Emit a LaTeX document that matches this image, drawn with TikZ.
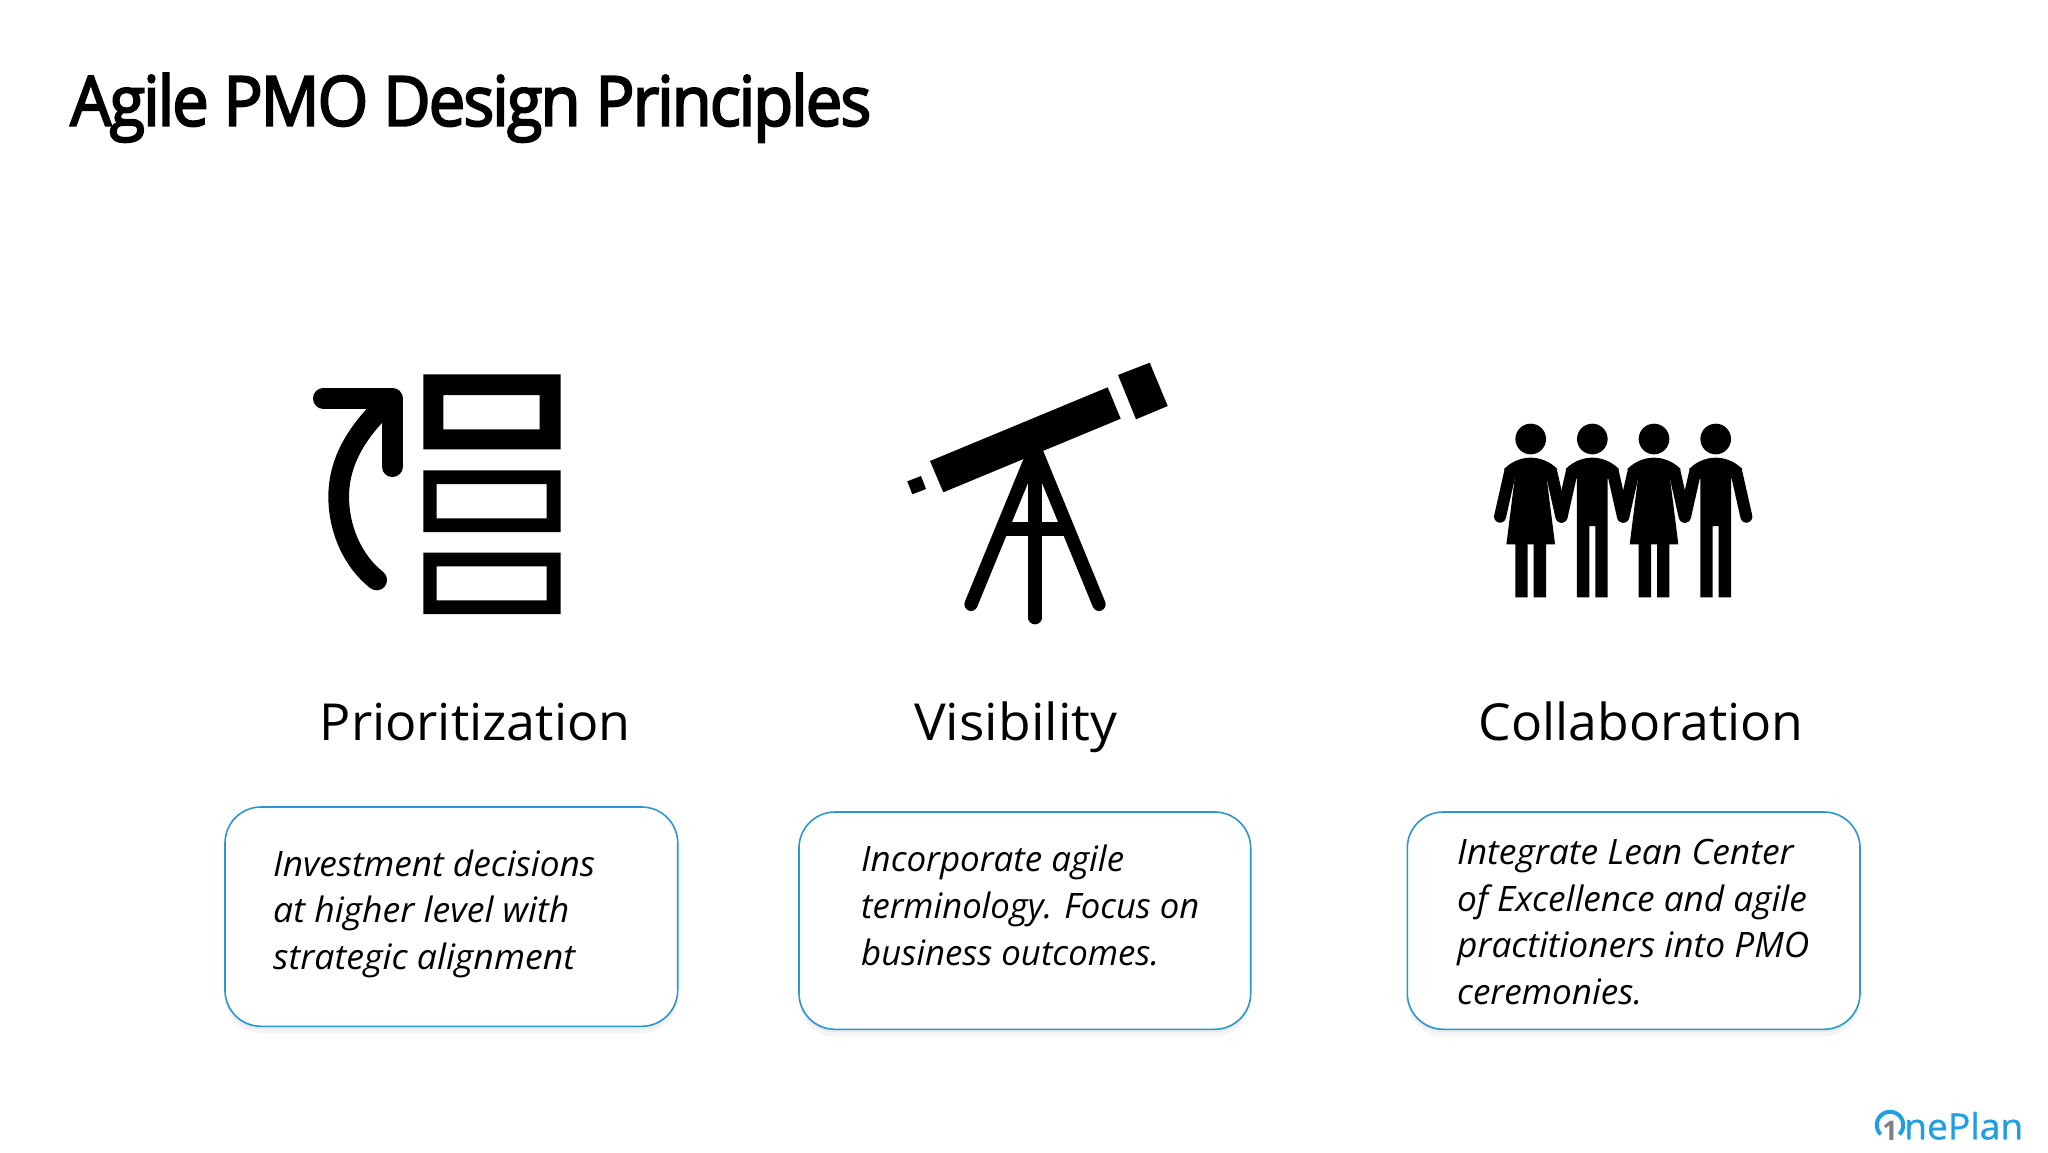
\documentclass[tikz,border=0pt]{standalone}
\usepackage{fontspec}
\usepackage{graphicx}
\usetikzlibrary{shadows}
\setmainfont{Open Sans}
\newfontfamily\titlefont[FakeBold=3,LetterSpace=-3]{Open Sans}
\newfontfamily\logofont[FakeBold=0.8]{Open Sans}
\definecolor{boxblue}{HTML}{2B96D2}
\definecolor{logoblue}{HTML}{1E9FE3}
\definecolor{logogray}{HTML}{7F7F7F}
\newcommand{\fitw}[2]{\resizebox{#1pt}{\height}{#2}}
\newcommand{\bodysize}{\fontsize{35}{46.6}\selectfont\itshape}
\tikzset{
  infobox/.style={draw=boxblue,line width=1.6pt,fill=white,rounded corners=36pt,inner sep=0pt,
    drop shadow={opacity=.08,shadow xshift=0pt,shadow yshift=-3pt},
    drop shadow={opacity=.08,shadow xshift=0pt,shadow yshift=-7pt}},
  bodytext/.style={anchor=base west,inner sep=0pt,align=left,font=\bodysize},
  heading/.style={anchor=base west,inner sep=0pt,font=\fontsize{51}{60}\selectfont},
  icon/.style={line width=13.3pt,line cap=round,draw=black},
  figman/.pic={
    \begin{scope}[x=.3333pt,y=-.3333pt]
    \fill (0,0) circle (46);
    \fill (-80,90) .. controls (-55,65) and (-25,56) .. (0,56) .. controls (25,56) and (55,65) .. (80,90)
      -- (60,125) -- (46,118) -- (46,475) -- (9,475) -- (9,261) -- (-9,261) -- (-9,475) -- (-46,475) -- (-46,118) -- (-60,125) -- cycle;
    \draw[line width=12pt,line cap=round] (-62,100) -- (-92,233);
    \draw[line width=12pt,line cap=round] (62,100) -- (92,233);
    \end{scope}
  },
  figwoman/.pic={
    \begin{scope}[x=.3333pt,y=-.3333pt]
    \fill (0,0) circle (46);
    \fill (-80,90) .. controls (-55,65) and (-25,56) .. (0,56) .. controls (25,56) and (55,65) .. (80,90)
      -- (60,125) -- (48,118) -- (73,316) -- (46,316) -- (46,475) -- (9,475) -- (9,316) -- (-9,316) -- (-9,475) -- (-46,475) -- (-46,316) -- (-73,316) -- (-48,118) -- (-60,125) -- cycle;
    \draw[line width=12pt,line cap=round] (-62,100) -- (-92,233);
    \draw[line width=12pt,line cap=round] (62,100) -- (92,233);
    \end{scope}
  },
}
\begin{document}
\begin{tikzpicture}[x=1pt,y=-1pt]
\useasboundingbox (0,0) rectangle (2048,1152);
\fill[white] (0,0) rectangle (2048,1152);

% title
\node[anchor=base west,inner sep=0pt,font=\fontsize{69}{80}\titlefont] (title) at (70,125.7) {\fitw{801}{Agile PMO Design Principles}};

% prioritization icon
\fill[black,even odd rule] (423.3,374.3) rectangle (560.7,449.3) (443.3,395) rectangle (539.7,429.3);
\fill[black,even odd rule] (423.3,470.3) rectangle (560.7,532) (436.7,484) rectangle (546.7,518.3);
\fill[black,even odd rule] (423.3,552.7) rectangle (560.7,614) (436.7,566.3) rectangle (546.7,600.3);
\draw[line width=20.7pt,line cap=round,line join=round] (323.3,398.3) -- (392.3,398.3) -- (392.3,466.7);
\draw[line width=20.7pt,line cap=round] (376.7,580) .. controls (353.3,561.7) and (338.7,530) .. (338.7,496.7) .. controls (338.7,463.3) and (355,433.3) .. (386.7,403.3);

% telescope icon
\fill (930,461) -- (1107.7,387.3) -- (1120.7,418.7) -- (943.3,492.3) -- cycle;
\fill (1118,375) -- (1149.7,362.7) -- (1167.7,406) -- (1136,419.3) -- cycle;
\fill (907.3,481.3) -- (921,476) -- (926,489) -- (912.3,494.3) -- cycle;
\draw[icon] (1033,453.3) -- (971,604.3);
\draw[icon] (1037,453.3) -- (1099,604.3);
\draw[icon] (1035,453.3) -- (1035,617.7);
\draw[line width=14pt] (1005,528.7) -- (1065,528.7);

% people icon
\pic at (1530.7,439) {figwoman};
\pic at (1592.3,439) {figman};
\pic at (1654,439) {figwoman};
\pic at (1715.7,439) {figman};

% headings
\node[heading] (hp) at (319.5,740) {\fitw{311}{Prioritization}};
\node[heading] (hv) at (914,740) {\fitw{203}{Visibility}};
\node[heading] (hc) at (1478.5,740) {\fitw{324.7}{Collaboration}};

% boxes
\node[infobox,minimum width=452.7pt,minimum height=219.3pt] (b1) at (451.35,916.65) {};
\node[infobox,minimum width=451.7pt,minimum height=217.3pt] (b2) at (1024.85,920.65) {};
\node[infobox,minimum width=452.7pt,minimum height=217.3pt] (b3) at (1633.65,920.65) {};

\node[bodytext] (t1) at (273,969.5) {\fitw{322}{Investment decisions}\\\fitw{296.3}{at higher level with}\\\fitw{302}{strategic alignment}};
\node[bodytext] (t2) at (861,965) {\fitw{263}{Incorporate agile}\\\fitw{338}{terminology. Focus on}\\\fitw{298}{business outcomes.}};
\node[bodytext] (t3) at (1457,1004.3) {\fitw{336.5}{Integrate Lean Center}\\\fitw{349.7}{of Excellence and agile}\\\fitw{352}{practitioners into PMO}\\\fitw{185}{ceremonies.}};

% logo
\draw[logoblue,line width=4pt] plot[smooth,domain=225:-45,samples=40] ({1890+13.2*cos(\x)},{1125-13.2*sin(\x)});
\node[anchor=base,inner sep=0pt,text=logogray,font=\fontsize{27}{30}\selectfont\bfseries] (logo1) at (1890,1140) {1};
\node[anchor=base west,inner sep=0pt,text=logoblue,font=\fontsize{36}{40}\logofont] (logo) at (1904,1139.3) {\fitw{119}{nePlan}};
\end{tikzpicture}
\end{document}
